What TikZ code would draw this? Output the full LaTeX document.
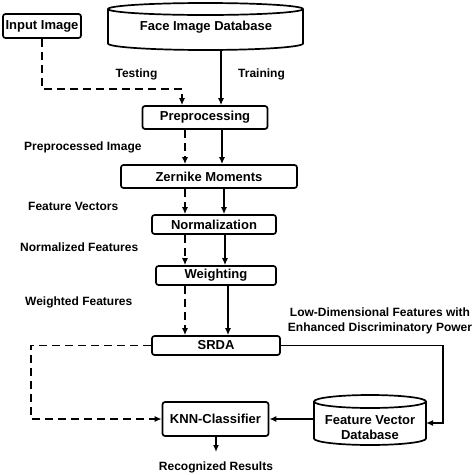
\documentclass[tikz,border=0pt]{standalone}
\usepackage{fontspec}
\setmainfont{Liberation Sans}
\usetikzlibrary{arrows.meta}
\begin{document}
\begin{tikzpicture}[x=1pt,y=-1pt,
  box/.style={draw, line width=1.7pt, rounded corners=2.5pt, font=\fontsize{13}{15}\selectfont\bfseries, inner sep=0pt},
  lbl/.style={font=\fontsize{12}{15}\selectfont\bfseries, inner sep=0pt},
  big/.style={font=\fontsize{13}{15}\selectfont\bfseries, inner sep=0pt},
  conn/.style={line width=1.7pt, -{Latex[length=7pt,width=6pt]}},
  dconn/.style={conn, dash pattern=on 8pt off 5pt},
  plain/.style={line width=1.7pt}
]
\useasboundingbox (0,0) rectangle (474,475);

% boxes
\node[box, minimum width=78pt, minimum height=24pt] (inputimg) at (42,26) {Input Image};
\node[box, minimum width=125pt, minimum height=23pt] (prep) at (205,117.5) {Preprocessing};
\node[box, minimum width=176pt, minimum height=23pt] (zern) at (209,176.5) {Zernike Moments};
\node[box, minimum width=124pt, minimum height=19pt] (norm) at (214,224.5) {Normalization};
\node[box, minimum width=120pt, minimum height=19pt] (weight) at (216,275.5) {Weighting};
\node[box, minimum width=128pt, minimum height=19pt] (srda) at (216,345.5) {SRDA};
\node[box, minimum width=106pt, minimum height=34pt] (knn) at (215.5,419) {KNN-Classifier};

% Face image database cylinder
\draw[plain] (205.5,9) ellipse[x radius=97.5pt, y radius=6pt];
\draw[plain] (108,9) -- (108,43.5) arc[start angle=180, end angle=360, x radius=97.5pt, y radius=6.5pt] -- (303,9);
\node[big] (facedb) at (206,27) {Face Image Database};
\coordinate (fdbout) at (221,50);

% Feature vector database cylinder
\draw[plain] (370,401.5) ellipse[x radius=56pt, y radius=6.5pt];
\draw[plain] (314,401.5) -- (314,438.5) arc[start angle=180, end angle=360, x radius=56pt, y radius=6.5pt] -- (426,401.5);
\node[big, align=center] (fvd) at (370,427.5) {Feature Vector\\Database};
\coordinate (fvdL) at (314,419);
\coordinate (fvdR) at (426,423);

% helper coordinates
\coordinate (tcorner) at (182,89);
\coordinate (d1) at (185,0);
\coordinate (s1) at (222,0);
\coordinate (s2) at (224,0);
\coordinate (s3) at (225,0);
\coordinate (s4) at (228,0);
\coordinate (rc) at (443,345.5);
\coordinate (lc) at (31,345.5);
\coordinate (res) at (216,452);

% connectors
\draw[dconn] (inputimg.south) |- (tcorner) -- (prep.north -| tcorner);
\draw[conn] (fdbout) -- (prep.north -| fdbout);
\draw[dconn] (prep.south -| d1) -- (zern.north -| d1);
\draw[conn] (prep.south -| s1) -- (zern.north -| s1);
\draw[dconn] (zern.south -| d1) -- (norm.north -| d1);
\draw[conn] (zern.south -| s2) -- (norm.north -| s2);
\draw[dconn] (norm.south -| d1) -- (weight.north -| d1);
\draw[conn] (norm.south -| s3) -- (weight.north -| s3);
\draw[dconn] (weight.south -| d1) -- (srda.north -| d1);
\draw[conn] (weight.south -| s4) -- (srda.north -| s4);
\draw[conn] (srda.east) -- (rc) |- (fvdR);
\draw[dconn] (srda.west) -- (lc) |- (knn.west);
\draw[conn] (fvdL) -- (knn.east);
\draw[conn] (knn.south -| res) -- (res);

% labels
\node[lbl] (ltest) at (136.5,74) {Testing};
\node[lbl] (ltrain) at (261.5,74) {Training};
\node[lbl, anchor=west] (lpre) at (24,147) {Preprocessed Image};
\node[lbl, anchor=west] (lfv) at (28,206) {Feature Vectors};
\node[lbl, anchor=west] (lnf) at (20,247) {Normalized Features};
\node[lbl, anchor=west] (lwf) at (25,302) {Weighted Features};
\node[lbl, align=center] (llow) at (380,320.5) {Low-Dimensional Features with\\Enhanced Discriminatory Power};
\node[lbl] (lres) at (216,467) {Recognized Results};
\end{tikzpicture}
\end{document}
